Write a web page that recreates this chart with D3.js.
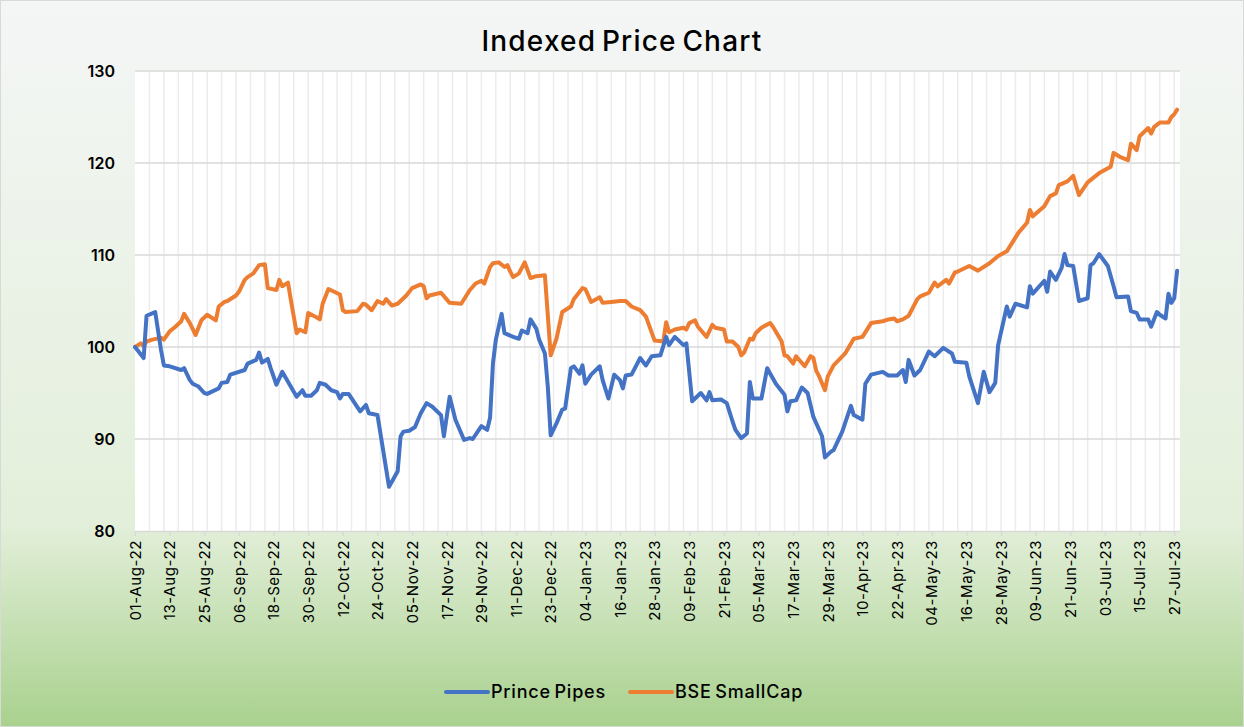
<!DOCTYPE html>
<html>
<head>
<meta charset="utf-8">
<script src="https://cdn.jsdelivr.net/npm/d3@7"></script>
<style>
  html, body { margin: 0; padding: 0; background: #fff; }
  svg { display: block; font-family: Inter, "Open Sans", sans-serif; }
</style>
</head>
<body>
<div id="chart"></div>
<script>
// ------------------------------------------------------------
//  Data (indexed to 100 on 01-Aug-22)
// ------------------------------------------------------------
const seriesNames = ['Prince Pipes', 'BSE SmallCap'];
const seriesColors = ['#4472c4', '#ed7d31'];
const yTicks = [80, 90, 100, 110, 120, 130];

const princeDates = [
  '2022-08-01','2022-08-04','2022-08-05','2022-08-08','2022-08-10','2022-08-11','2022-08-13','2022-08-17',
  '2022-08-18','2022-08-20','2022-08-21','2022-08-23','2022-08-25','2022-08-26','2022-08-30','2022-08-31',
  '2022-09-02','2022-09-03','2022-09-08','2022-09-09','2022-09-12','2022-09-13','2022-09-14','2022-09-16',
  '2022-09-17','2022-09-19','2022-09-21','2022-09-26','2022-09-28','2022-09-29','2022-10-01','2022-10-03',
  '2022-10-04','2022-10-06','2022-10-08','2022-10-10','2022-10-11','2022-10-12','2022-10-14','2022-10-18',
  '2022-10-20','2022-10-21','2022-10-24','2022-10-28','2022-10-31','2022-11-01','2022-11-02','2022-11-04',
  '2022-11-06','2022-11-08','2022-11-10','2022-11-12','2022-11-15','2022-11-16','2022-11-18','2022-11-20',
  '2022-11-23','2022-11-25','2022-11-26','2022-11-29','2022-12-01','2022-12-02','2022-12-03','2022-12-04',
  '2022-12-06','2022-12-07','2022-12-10','2022-12-12','2022-12-13','2022-12-15','2022-12-16','2022-12-18',
  '2022-12-19','2022-12-21','2022-12-22','2022-12-23','2022-12-25','2022-12-27','2022-12-28','2022-12-30',
  '2022-12-31','2023-01-02','2023-01-03','2023-01-04','2023-01-06','2023-01-09','2023-01-10','2023-01-12',
  '2023-01-14','2023-01-16','2023-01-17','2023-01-18','2023-01-20','2023-01-23','2023-01-25','2023-01-27',
  '2023-01-30','2023-02-01','2023-02-02','2023-02-04','2023-02-07','2023-02-08','2023-02-10','2023-02-13',
  '2023-02-15','2023-02-16','2023-02-17','2023-02-20','2023-02-22','2023-02-24','2023-02-25','2023-02-27',
  '2023-03-01','2023-03-02','2023-03-03','2023-03-06','2023-03-08','2023-03-11','2023-03-14','2023-03-15',
  '2023-03-16','2023-03-18','2023-03-20','2023-03-22','2023-03-24','2023-03-27','2023-03-28','2023-03-30',
  '2023-03-31','2023-04-03','2023-04-06','2023-04-07','2023-04-10','2023-04-11','2023-04-13','2023-04-17',
  '2023-04-19','2023-04-22','2023-04-24','2023-04-25','2023-04-26','2023-04-28','2023-04-30','2023-05-03',
  '2023-05-05','2023-05-08','2023-05-11','2023-05-12','2023-05-16','2023-05-17','2023-05-20','2023-05-22',
  '2023-05-24','2023-05-26','2023-05-27','2023-05-30','2023-05-31','2023-06-02','2023-06-06','2023-06-07',
  '2023-06-08','2023-06-12','2023-06-13','2023-06-14','2023-06-16','2023-06-18','2023-06-19','2023-06-20',
  '2023-06-22','2023-06-24','2023-06-27','2023-06-28','2023-06-29','2023-07-01','2023-07-04','2023-07-06',
  '2023-07-07','2023-07-11','2023-07-12','2023-07-14','2023-07-15','2023-07-18','2023-07-19','2023-07-21',
  '2023-07-22','2023-07-24','2023-07-25','2023-07-26','2023-07-27','2023-07-28'
];
const princeValues = [
  100.0, 98.8, 103.4, 103.8, 99.7, 98.0, 97.9, 97.5,
  97.7, 96.4, 96.0, 95.7, 95.0, 94.9, 95.5, 96.1,
  96.2, 97.0, 97.5, 98.2, 98.6, 99.4, 98.3, 98.7,
  97.7, 95.9, 97.3, 94.6, 95.3, 94.7, 94.7, 95.3,
  96.1, 95.9, 95.3, 95.1, 94.4, 94.9, 94.9, 93.0,
  93.7, 92.8, 92.6, 84.8, 86.5, 90.3, 90.8, 90.9,
  91.3, 92.8, 93.9, 93.5, 92.6, 90.3, 94.6, 92.1,
  89.9, 90.1, 90.0, 91.4, 91.0, 92.3, 98.2, 100.8,
  103.6, 101.5, 101.1, 100.9, 101.8, 101.5, 103.0, 102.0,
  100.8, 99.3, 95.7, 90.4, 91.7, 93.2, 93.3, 97.7,
  97.9, 97.1, 98.0, 96.0, 97.0, 97.9, 96.4, 94.4,
  97.0, 96.4, 95.5, 96.9, 97.0, 98.8, 98.0, 99.0,
  99.1, 101.1, 100.2, 101.1, 100.2, 100.4, 94.1, 95.0,
  94.2, 95.1, 94.2, 94.3, 93.9, 91.9, 91.0, 90.1,
  90.6, 96.2, 94.4, 94.4, 97.7, 96.0, 94.8, 93.0,
  94.1, 94.2, 95.6, 95.0, 92.4, 90.3, 88.0, 88.6,
  88.8, 90.8, 93.6, 92.6, 92.1, 96.0, 97.0, 97.3,
  96.9, 96.9, 97.5, 96.2, 98.6, 96.9, 97.5, 99.5,
  99.0, 99.9, 99.3, 98.4, 98.3, 96.8, 93.9, 97.3,
  95.1, 96.1, 100.2, 104.4, 103.3, 104.7, 104.3, 106.6,
  105.8, 107.2, 106.0, 108.2, 107.3, 108.6, 110.1, 108.9,
  108.8, 105.0, 105.3, 108.9, 109.1, 110.1, 108.8, 106.6,
  105.4, 105.5, 103.9, 103.7, 103.0, 103.0, 102.2, 103.8,
  103.5, 103.1, 105.8, 104.8, 105.3, 108.3
];

const smallcapDates = [
  '2022-08-01','2022-08-03','2022-08-04','2022-08-05','2022-08-07','2022-08-10','2022-08-11','2022-08-13',
  '2022-08-15','2022-08-17','2022-08-18','2022-08-20','2022-08-22','2022-08-24','2022-08-26','2022-08-29',
  '2022-08-30','2022-09-01','2022-09-02','2022-09-05','2022-09-06','2022-09-08','2022-09-09','2022-09-11',
  '2022-09-13','2022-09-15','2022-09-16','2022-09-19','2022-09-20','2022-09-21','2022-09-23','2022-09-24',
  '2022-09-26','2022-09-27','2022-09-29','2022-09-30','2022-10-03','2022-10-04','2022-10-05','2022-10-07',
  '2022-10-11','2022-10-12','2022-10-13','2022-10-17','2022-10-19','2022-10-20','2022-10-22','2022-10-24',
  '2022-10-26','2022-10-27','2022-10-29','2022-10-31','2022-11-03','2022-11-05','2022-11-08','2022-11-09',
  '2022-11-10','2022-11-11','2022-11-15','2022-11-18','2022-11-22','2022-11-25','2022-11-27','2022-11-29',
  '2022-11-30','2022-12-02','2022-12-03','2022-12-05','2022-12-07','2022-12-08','2022-12-09','2022-12-10',
  '2022-12-12','2022-12-14','2022-12-16','2022-12-18','2022-12-21','2022-12-23','2022-12-25','2022-12-27',
  '2022-12-30','2022-12-31','2023-01-03','2023-01-04','2023-01-05','2023-01-06','2023-01-09','2023-01-10',
  '2023-01-13','2023-01-16','2023-01-18','2023-01-20','2023-01-23','2023-01-25','2023-01-28','2023-01-31',
  '2023-02-01','2023-02-02','2023-02-04','2023-02-07','2023-02-08','2023-02-09','2023-02-11','2023-02-12',
  '2023-02-15','2023-02-17','2023-02-18','2023-02-21','2023-02-22','2023-02-24','2023-02-26','2023-02-27',
  '2023-02-28','2023-03-02','2023-03-03','2023-03-04','2023-03-06','2023-03-09','2023-03-10','2023-03-13',
  '2023-03-14','2023-03-15','2023-03-17','2023-03-18','2023-03-21','2023-03-23','2023-03-24','2023-03-25',
  '2023-03-26','2023-03-28','2023-03-29','2023-03-31','2023-04-04','2023-04-07','2023-04-10','2023-04-13',
  '2023-04-17','2023-04-19','2023-04-21','2023-04-22','2023-04-24','2023-04-26','2023-04-27','2023-04-29',
  '2023-04-30','2023-05-03','2023-05-05','2023-05-06','2023-05-09','2023-05-10','2023-05-12','2023-05-13',
  '2023-05-17','2023-05-20','2023-05-24','2023-05-27','2023-05-30','2023-06-03','2023-06-06','2023-06-07',
  '2023-06-08','2023-06-12','2023-06-14','2023-06-16','2023-06-17','2023-06-20','2023-06-22','2023-06-24',
  '2023-06-27','2023-07-01','2023-07-05','2023-07-06','2023-07-08','2023-07-11','2023-07-12','2023-07-14',
  '2023-07-15','2023-07-18','2023-07-19','2023-07-20','2023-07-22','2023-07-25','2023-07-26','2023-07-27',
  '2023-07-28'
];
const smallcapValues = [
  100.0, 100.4, 100.1, 100.6, 100.8, 101.0, 100.8, 101.7,
  102.2, 102.8, 103.6, 102.6, 101.3, 102.9, 103.5, 102.9,
  104.4, 104.9, 105.0, 105.6, 106.0, 107.3, 107.6, 108.0,
  108.9, 109.0, 106.4, 106.2, 107.3, 106.6, 107.0, 105.1,
  101.5, 101.9, 101.6, 103.7, 103.2, 103.0, 104.7, 106.3,
  105.7, 104.0, 103.8, 103.9, 104.7, 104.6, 104.0, 105.0,
  104.7, 105.2, 104.5, 104.7, 105.6, 106.4, 106.8, 106.6,
  105.3, 105.6, 105.9, 104.8, 104.7, 106.2, 106.9, 107.2,
  106.9, 108.7, 109.1, 109.2, 108.7, 108.9, 108.2, 107.6,
  108.0, 109.2, 107.5, 107.7, 107.8, 99.1, 100.9, 103.8,
  104.4, 105.2, 106.4, 106.3, 105.6, 104.9, 105.4, 104.8,
  104.9, 105.0, 105.0, 104.4, 104.0, 103.3, 100.7, 100.6,
  102.7, 101.6, 101.9, 102.1, 101.9, 102.6, 102.9, 102.2,
  101.1, 102.4, 102.1, 101.9, 100.6, 100.6, 100.0, 99.1,
  99.4, 100.9, 100.8, 101.5, 102.1, 102.6, 102.2, 100.6,
  99.1, 99.0, 98.2, 99.0, 97.9, 99.0, 98.8, 97.4,
  96.8, 95.3, 96.8, 98.0, 99.3, 100.9, 101.1, 102.6,
  102.8, 103.0, 103.1, 102.8, 103.0, 103.4, 104.0, 105.2,
  105.5, 105.9, 107.0, 106.6, 107.3, 106.9, 108.1, 108.2,
  108.8, 108.3, 109.1, 109.9, 110.4, 112.4, 113.5, 114.9,
  114.2, 115.3, 116.4, 116.7, 117.6, 118.0, 118.6, 116.5,
  117.9, 118.9, 119.6, 121.1, 120.7, 120.3, 122.1, 121.4,
  122.9, 123.8, 123.2, 123.9, 124.4, 124.4, 125.0, 125.3,
  125.8
];

// x axis: labelled every 12 days, light gridlines every 5 days
const axisStart = '2022-08-01';
const axisEnd = '2023-07-29';
const labelStepDays = 12;
const gridStepDays = 5;

// ------------------------------------------------------------
//  Chart
// ------------------------------------------------------------
const W = 1244, H = 727;
const plot = { left: 135, right: 1180, top: 71, bottom: 531 };
const parse = d3.timeParse('%Y-%m-%d');
const fmt = d3.timeFormat('%d-%b-%y');

const svg = d3.select('#chart').append('svg')
  .attr('width', W)
  .attr('height', H);

const defs = svg.append('defs');
const grad = defs.append('linearGradient')
  .attr('id', 'bg').attr('x1', 0).attr('y1', 0).attr('x2', 0).attr('y2', 1);
grad.append('stop').attr('offset', '0%').attr('stop-color', '#f4f6f6');
grad.append('stop').attr('offset', '72%').attr('stop-color', '#e3efda');
grad.append('stop').attr('offset', '100%').attr('stop-color', '#a9d18e');

svg.append('rect')
  .attr('x', 0.5).attr('y', 0.5)
  .attr('width', W - 1).attr('height', H - 1)
  .attr('fill', 'url(#bg)')
  .attr('stroke', '#d9d9d9');

svg.append('rect')
  .attr('x', plot.left).attr('y', plot.top)
  .attr('width', plot.right - plot.left).attr('height', plot.bottom - plot.top)
  .attr('fill', '#ffffff');

const x = d3.scaleTime()
  .domain([parse(axisStart), parse(axisEnd)])
  .range([plot.left, plot.right]);
const y = d3.scaleLinear()
  .domain([80, 130])
  .range([plot.bottom, plot.top]);

const start = parse(axisStart);
const end = parse(axisEnd);
const allDays = d3.timeDay.range(start, d3.timeDay.offset(end, 1));
const gridDates = allDays.filter((d, i) => i % gridStepDays === 0 && i > 0);
const labelDates = allDays.filter((d, i) => i % labelStepDays === 0);

// vertical gridlines
svg.append('g')
  .selectAll('line')
  .data(gridDates)
  .join('line')
  .attr('x1', d => x(d)).attr('x2', d => x(d))
  .attr('y1', plot.top).attr('y2', plot.bottom)
  .attr('stroke', '#ececec')
  .attr('stroke-width', 1.5);

// horizontal gridlines
svg.append('g')
  .selectAll('line')
  .data(yTicks.filter(v => v > 80))
  .join('line')
  .attr('x1', plot.left).attr('x2', plot.right)
  .attr('y1', d => y(d)).attr('y2', d => y(d))
  .attr('stroke', '#d9d9d9')
  .attr('stroke-width', 1.5);

// y axis labels
const yAxis = svg.append('g')
  .attr('transform', `translate(${plot.left},0)`)
  .call(d3.axisLeft(y).tickValues(yTicks).tickSize(0).tickPadding(20));
yAxis.select('.domain').remove();
yAxis.selectAll('text')
  .attr('fill', '#000')
  .style('font-family', 'Inter, sans-serif')
  .style('font-size', '16px')
  .style('font-weight', 600);

// x axis
const xAxis = svg.append('g')
  .attr('transform', `translate(0,${plot.bottom})`)
  .call(d3.axisBottom(x).tickValues(labelDates).tickFormat(fmt).tickSize(5).tickSizeOuter(0));
xAxis.select('.domain').attr('stroke', '#d9d9d9').attr('stroke-width', 1.5);
xAxis.selectAll('.tick line').attr('stroke', '#d9d9d9').attr('stroke-width', 1.5);
xAxis.selectAll('text')
  .attr('fill', '#000')
  .style('font-family', 'Inter, sans-serif')
  .style('font-size', '15px')
  .style('letter-spacing', '0.6px')
  .attr('transform', 'rotate(-90)')
  .attr('text-anchor', 'end')
  .attr('x', -9)
  .attr('y', 0)
  .attr('dy', '0.35em');

// lines
const line = d3.line()
  .x(d => x(d.date))
  .y(d => y(d.value));

const series = [
  { name: seriesNames[0], color: seriesColors[0],
    data: princeDates.map((d, i) => ({ date: parse(d), value: princeValues[i] })) },
  { name: seriesNames[1], color: seriesColors[1],
    data: smallcapDates.map((d, i) => ({ date: parse(d), value: smallcapValues[i] })) }
];

// orange underneath, blue on top where they cross
[series[1], series[0]].forEach(s => {
  svg.append('path')
    .datum(s.data)
    .attr('fill', 'none')
    .attr('stroke', s.color)
    .attr('stroke-width', 4)
    .attr('stroke-linejoin', 'round')
    .attr('stroke-linecap', 'round')
    .attr('d', line);
});

// title
svg.append('text')
  .attr('x', 622).attr('y', 51)
  .attr('text-anchor', 'middle')
  .attr('fill', '#000')
  .style('font-size', '28px')
  .style('font-weight', 500)
  .style('letter-spacing', '1.2px')
  .style('word-spacing', '-3px')
  .text('Indexed Price Chart');

// legend
const legend = svg.append('g').attr('transform', 'translate(445,692)');
const legendX = [0, 184];
series.forEach((s, i) => {
  const g = legend.append('g').attr('transform', `translate(${legendX[i]},0)`);
  g.append('line')
    .attr('x1', 1).attr('x2', 43)
    .attr('stroke', s.color).attr('stroke-width', 4).attr('stroke-linecap', 'round');
  g.append('text')
    .attr('x', 46).attr('y', 0).attr('dy', '0.35em')
    .attr('fill', '#000')
    .style('font-size', '18px')
    .style('font-weight', 500)
    .style('letter-spacing', '0.8px')
    .style('word-spacing', '-2px')
    .text(s.name);
});
</script>
</body>
</html>
